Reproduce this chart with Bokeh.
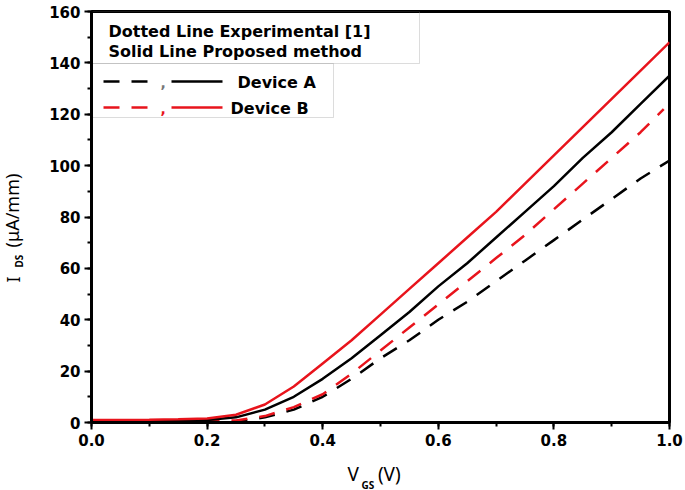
import math
from bokeh.plotting import figure
from bokeh.models import (Range1d, SingleIntervalTicker, PrintfTickFormatter,
                          Label, BoxAnnotation)
from bokeh.embed import file_html
from bokeh.resources import INLINE

# ---------------- data ----------------
vgs = [0.0, 0.05, 0.10, 0.15, 0.20, 0.25, 0.30, 0.35, 0.40, 0.45, 0.50,
       0.55, 0.60, 0.65, 0.70, 0.75, 0.80, 0.85, 0.90, 0.95, 1.00]

# Device A (black)
dev_a_proposed = [0.3, 0.4, 0.5, 0.7, 1.0, 2.0, 5.0, 10.0, 17.0, 25.0, 34.0,
                  43.0, 53.0, 62.0, 72.0, 82.0, 92.0, 103.0, 113.0, 124.0, 135.0]
dev_a_experimental = [0.0, 0.0, 0.0, 0.0, 0.0, 0.2, 2.0, 5.0, 10.0, 17.0, 25.0,
                      32.0, 40.0, 47.0, 55.0, 63.0, 71.0, 79.0, 87.0, 95.0, 102.0]

# Device B (red)
dev_b_proposed = [1.0, 1.0, 1.1, 1.3, 1.6, 3.0, 7.0, 14.0, 23.0, 32.0, 42.0,
                  52.0, 62.0, 72.0, 82.0, 93.0, 104.0, 115.0, 126.0, 137.0, 148.0]
vgs_b_exp = [0.0, 0.05, 0.10, 0.15, 0.20, 0.25, 0.30, 0.35, 0.40, 0.45, 0.50,
             0.55, 0.60, 0.65, 0.70, 0.75, 0.80, 0.85, 0.90, 0.95, 0.99]
dev_b_experimental = [0.5, 0.5, 0.5, 0.5, 0.5, 0.8, 2.5, 6.0, 11.0, 19.0, 28.0,
                      37.0, 46.0, 55.0, 64.0, 73.0, 83.0, 93.0, 103.0, 113.0, 122.0]

x_range = (0.0, 1.0)
y_range = (0.0, 160.0)

# ---------------- layout ----------------
W, H = 685, 490
FL, FR, FT, FB = 91, 669, 11, 422   # frame edges in pixels
TXT_SHIFT = 5                        # baseline correction


def dx(px):
    return x_range[0] + (px - FL) / (FR - FL) * (x_range[1] - x_range[0])


def dy(py):
    return y_range[0] + (FB - py) / (FB - FT) * (y_range[1] - y_range[0])


p = figure(width=W, height=H, output_backend="svg", toolbar_location=None,
           x_range=Range1d(*x_range), y_range=Range1d(*y_range),
           min_border_left=FL, min_border_right=W - FR,
           min_border_top=FT, min_border_bottom=H - FB)
p.background_fill_color = "white"
p.border_fill_color = "white"
p.grid.visible = False
p.outline_line_color = "black"
p.outline_line_width = 3
p.outline_line_alpha = 1.0

p.xaxis.ticker = SingleIntervalTicker(interval=0.2, num_minor_ticks=2)
p.yaxis.ticker = SingleIntervalTicker(interval=20, num_minor_ticks=2)
p.xaxis.formatter = PrintfTickFormatter(format="%.1f")
p.yaxis.formatter = PrintfTickFormatter(format="%d")
for ax in (p.xaxis[0], p.yaxis[0]):
    ax.axis_line_width = 3
    ax.axis_line_color = "black"
    ax.major_tick_line_width = 2
    ax.minor_tick_line_width = 2
    ax.major_tick_out = 7
    ax.major_tick_in = 0
    ax.minor_tick_out = 4
    ax.minor_tick_in = 0
    ax.major_label_text_font = "DejaVu Sans"
    ax.major_label_text_font_style = "bold"
    ax.major_label_text_font_size = "15px"
    ax.major_label_text_color = "black"
    ax.major_label_standoff = 4
    ax.axis_label = None

# ---------------- curves ----------------
p.line(vgs, dev_a_experimental, line_color="black", line_width=2.5, line_dash="16 12")
p.line(vgs_b_exp, dev_b_experimental, line_color="#e8141c", line_width=2.5, line_dash="16 12")
p.line(vgs, dev_a_proposed, line_color="black", line_width=2.5)
p.line(vgs, dev_b_proposed, line_color="#e8141c", line_width=2.5)

# ---------------- legend boxes ----------------
p.add_layout(BoxAnnotation(left=dx(FL), right=dx(419), top=dy(FT), bottom=dy(63),
                           fill_alpha=0, line_color="#8c8c8c", line_width=1,
                           level="underlay"))
p.add_layout(BoxAnnotation(left=dx(FL), right=dx(333), top=dy(63), bottom=dy(117),
                           fill_alpha=0, line_color="#8c8c8c", line_width=1,
                           level="underlay"))


def lab(text, px, py, size, style="bold", font="DejaVu Sans", color="black"):
    p.add_layout(Label(x=dx(px), y=dy(py - TXT_SHIFT), text=text, text_font=font,
                       text_font_size=f"{size}px", text_font_style=style,
                       text_color=color, text_align="left",
                       text_baseline="alphabetic"))


lab("Dotted Line Experimental [1]", 108, 36, 16)
lab("Solid Line Proposed method", 108, 56, 16)

legend_rows = [("Device A", "black", 81, 237), ("Device B", "#e8141c", 107, 230)]
for name, col, py, tx in legend_rows:
    p.line([dx(103), dx(152)], [dy(py), dy(py)], line_color=col, line_width=2.5,
           line_dash="16 12")
    p.line([dx(171), dx(222)], [dy(py), dy(py)], line_color=col, line_width=2.5)
    lab(",", 160, py + 6, 14, style="bold", color="#777777" if col == "black" else col)
    lab(name, tx, py + 6, 16)


# ---------------- axis titles with subscripts (in side panels, unclipped) ----------------
def side_lab(place, text, sx, sy, size, style="normal", angle=0.0):
    p.add_layout(Label(x=sx, y=sy, x_units="screen", y_units="screen", text=text,
                       text_font="Noto Sans", text_font_size=f"{size}px",
                       text_font_style=style, text_color="black", angle=angle,
                       text_align="left", text_baseline="alphabetic"), place)


# x title: V_GS(V)
side_lab("below", "V\u2003(V)", 256, 1, 19)
side_lab("left", "GS", 328, -62, 10, style="bold")
# y title: I_DS(uA/mm)
side_lab("above", "I", -79, -271, 18, angle=math.pi / 2)
side_lab("right", "DS", -651, 155, 10, style="bold", angle=math.pi / 2)
side_lab("left", "(\u03bcA/mm)", 2, 175, 18, angle=math.pi / 2)

open("out.html", "w").write(file_html(p, INLINE))
